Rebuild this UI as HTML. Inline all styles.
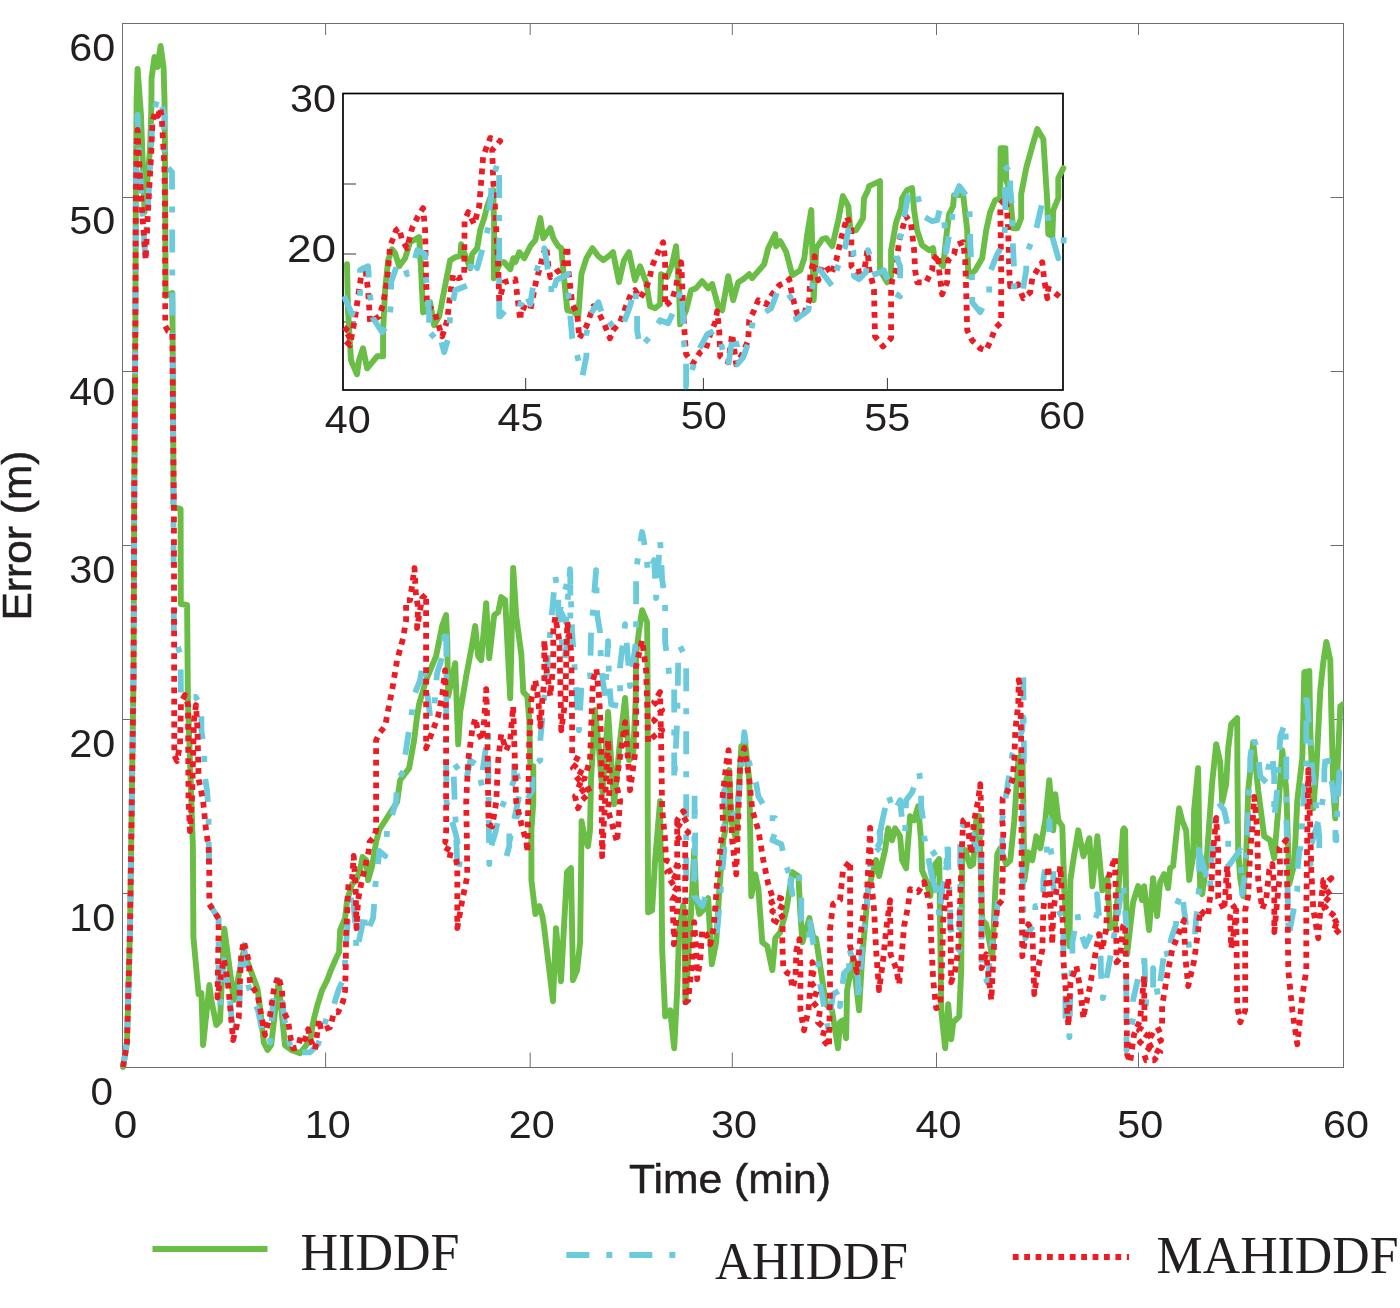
<!DOCTYPE html><html><head><meta charset="utf-8"><title>Error vs Time</title>
<style>html,body{margin:0;padding:0;background:#fff}svg{display:block}text{font-family:"Liberation Sans",sans-serif;fill:#231f20}.ser{font-family:"Liberation Serif",serif}</style></head><body>
<svg width="1400" height="1308" viewBox="0 0 1400 1308">
<rect width="1400" height="1308" fill="#fff"/>
<g stroke="#6d6e71" stroke-width="1" fill="none">
<rect x="122.5" y="23.5" width="1221" height="1044"/>
<path d="M325.6,1067.5 v-15 M325.6,23.5 v11.5"/>
<path d="M530.2,1067.5 v-15 M530.2,23.5 v11.5"/>
<path d="M732.3,1067.5 v-15 M732.3,23.5 v11.5"/>
<path d="M936.5,1067.5 v-15 M936.5,23.5 v11.5"/>
<path d="M1138.5,1067.5 v-15 M1138.5,23.5 v11.5"/>
<path d="M122.5,893.5 h10.5 M1343.5,893.5 h-13"/>
<path d="M122.5,719.5 h10.5 M1343.5,719.5 h-13"/>
<path d="M122.5,545.5 h10.5 M1343.5,545.5 h-13"/>
<path d="M122.5,371.5 h10.5 M1343.5,371.5 h-13"/>
<path d="M122.5,197.5 h10.5 M1343.5,197.5 h-13"/>
</g>
<clipPath id="cp"><rect x="100" y="0" width="1243.6" height="1100"/></clipPath>
<g fill="none" stroke-linejoin="round" stroke-linecap="butt" clip-path="url(#cp)">
<path d="M123.0,1067.0 L125.0,1055.0 L127.0,1042.0 L130.0,930.0 L131.4,830.0 L133.5,677.0 L134.3,490.0 L135.4,320.0 L135.8,200.0 L136.6,100.0 L137.6,69.0 L141.0,115.0 L144.6,212.0 L150.0,150.0 L151.3,110.0 L151.6,78.0 L154.5,57.0 L157.5,67.0 L160.6,46.0 L163.6,68.0 L164.5,100.0 L165.0,150.0 L165.6,296.0 L172.3,293.0 L172.6,330.0 L173.6,507.0 L180.6,509.0 L180.8,604.0 L187.1,605.0 L187.9,700.0 L192.9,847.0 L193.4,937.0 L198.6,994.0 L201.4,993.0 L203.1,1045.0 L209.4,985.0 L211.3,1000.0 L216.3,1025.0 L220.0,1021.0 L224.3,928.6 L233.8,1000.0 L243.6,951.4 L257.5,988.8 L260.0,1007.5 L263.8,1042.5 L267.5,1050.0 L271.2,1045.0 L278.6,981.4 L285.0,1045.3 L292.0,1050.3 L300.0,1053.3 L310.1,1040.3 L313.1,1022.3 L317.1,1006.2 L322.1,990.2 L327.1,980.2 L330.1,972.2 L336.1,958.2 L339.1,952.2 L340.1,930.1 L345.1,918.1 L347.1,900.1 L352.1,884.1 L356.1,880.1 L360.1,870.1 L362.5,857.0 L366.1,860.0 L368.1,880.1 L372.1,866.1 L376.1,842.0 L379.2,830.0 L397.1,802.0 L400.1,780.3 L409.1,768.3 L414.1,740.3 L417.1,716.2 L419.1,704.2 L426.1,680.2 L436.1,656.2 L442.1,626.1 L446.1,615.1 L447.2,640.1 L448.2,696.2 L455.2,663.2 L458.2,744.3 L460.2,712.2 L466.2,676.2 L472.2,644.1 L475.2,626.1 L478.2,656.2 L481.2,660.2 L486.2,603.1 L489.2,658.2 L494.2,615.1 L498.2,612.1 L501.2,597.1 L505.2,600.1 L510.2,698.2 L513.2,568.0 L516.2,616.1 L521.3,654.2 L523.3,692.2 L527.3,696.2 L529.3,720.3 L530.3,766.3 L533.3,766.3 L533.3,802.0 L531.4,830.0 L531.4,880.1 L535.4,914.1 L539.4,906.1 L542.4,916.1 L544.0,926.1 L553.0,1001.2 L556.0,928.1 L561.0,981.2 L567.0,872.1 L571.0,868.1 L573.0,980.2 L577.1,970.2 L580.1,942.2 L581.1,870.1 L581.6,821.2 L584.0,834.2 L588.0,846.2 L590.0,830.2 L591.0,780.1 L595.0,710.0 L599.1,750.1 L602.5,792.2 L605.7,750.1 L608.1,712.0 L611.1,760.1 L614.1,804.2 L620.1,740.1 L625.1,698.0 L629.1,760.1 L633.1,756.1 L635.7,700.0 L636.1,654.2 L639.1,630.2 L642.1,610.1 L647.1,622.2 L647.7,690.3 L647.7,800.2 L648.1,912.3 L652.1,910.3 L655.1,860.3 L660.1,801.2 L660.7,860.3 L661.2,850.0 L662.2,950.2 L665.2,1016.3 L670.2,1010.3 L674.2,1048.3 L677.2,990.2 L679.2,930.1 L683.2,905.1 L684.6,914.1 L685.4,1002.2 L688.2,960.2 L691.2,910.1 L694.2,850.0 L696.2,896.1 L699.2,914.1 L703.2,910.1 L708.2,898.1 L710.2,938.2 L711.8,964.2 L716.2,942.2 L719.3,890.1 L723.3,840.0 L725.3,830.0 L726.2,780.1 L729.2,770.1 L731.2,820.2 L736.2,840.2 L738.2,800.2 L741.3,746.1 L745.3,744.1 L749.3,780.1 L751.3,896.3 L755.3,874.3 L758.3,888.3 L762.3,942.2 L767.3,946.2 L772.3,970.2 L775.3,938.2 L780.3,932.1 L786.3,910.1 L792.4,872.1 L798.4,876.1 L800.4,914.1 L802.4,942.2 L809.4,918.1 L813.4,938.2 L816.0,938.2 L822.0,978.2 L826.0,1004.2 L832.0,1010.3 L838.0,1048.3 L840.0,1022.3 L843.0,1020.3 L846.1,1038.3 L847.1,990.2 L853.1,958.2 L859.1,1010.3 L862.1,958.2 L868.1,890.1 L876.1,860.0 L879.1,876.1 L885.1,850.0 L888.1,828.3 L892.1,840.3 L895.1,828.3 L900.1,836.3 L902.1,860.3 L906.1,868.3 L910.1,816.2 L914.1,820.3 L918.1,806.2 L921.1,840.3 L922.1,870.3 L926.1,880.3 L930.2,896.1 L932.6,880.1 L935.2,864.0 L939.2,859.0 L940.2,930.1 L941.2,1010.3 L945.2,1048.3 L948.2,1004.2 L951.2,1039.3 L953.2,1022.3 L959.2,1016.3 L961.2,970.2 L962.2,860.0 L965.2,850.0 L970.2,866.1 L973.2,864.3 L976.2,820.3 L979.2,816.2 L980.2,850.0 L982.2,920.1 L986.2,924.1 L990.3,946.2 L992.3,958.2 L995.3,890.1 L997.3,854.0 L1000.2,848.3 L1006.2,864.3 L1010.3,860.3 L1014.3,820.3 L1018.3,760.2 L1022.3,752.2 L1023.3,800.2 L1024.3,880.3 L1028.3,852.3 L1032.3,860.3 L1036.3,836.3 L1040.3,848.3 L1045.3,820.3 L1049.3,780.2 L1053.3,830.3 L1055.3,794.2 L1058.3,820.3 L1062.3,826.3 L1064.3,890.4 L1065.4,910.1 L1069.4,946.2 L1070.4,880.1 L1073.3,860.3 L1078.3,830.3 L1083.4,856.3 L1089.4,838.3 L1092.4,886.3 L1097.4,836.3 L1102.4,890.4 L1107.4,878.3 L1110.0,928.1 L1115.0,926.1 L1120.1,870.1 L1123.1,830.0 L1124.0,828.3 L1125.1,830.0 L1127.1,954.2 L1133.1,902.1 L1138.1,886.1 L1142.1,900.1 L1144.1,886.1 L1149.1,930.1 L1153.1,878.1 L1157.1,916.1 L1160.1,882.1 L1164.1,874.1 L1168.1,888.1 L1170.1,868.1 L1173.1,866.1 L1179.1,808.3 L1182.1,820.3 L1186.1,830.3 L1189.2,880.1 L1193.2,856.0 L1194.1,810.3 L1198.1,768.2 L1200.2,890.1 L1202.2,894.1 L1206.2,866.1 L1212.2,782.2 L1216.2,744.2 L1220.2,762.2 L1222.2,802.3 L1226.2,784.2 L1228.2,748.2 L1231.2,724.2 L1237.2,718.2 L1237.4,770.2 L1238.2,850.0 L1240.2,878.1 L1243.2,896.1 L1246.2,856.0 L1248.2,790.3 L1253.2,742.2 L1258.2,790.3 L1264.2,836.3 L1270.2,840.3 L1274.2,858.3 L1278.2,810.3 L1282.3,750.2 L1286.3,790.3 L1289.3,884.1 L1294.3,864.0 L1297.3,800.3 L1302.3,758.2 L1304.3,672.1 L1309.3,671.1 L1310.3,730.2 L1313.3,808.3 L1316.3,770.2 L1320.3,690.1 L1323.3,662.1 L1326.3,642.0 L1330.3,660.1 L1331.3,710.1 L1333.3,790.3 L1335.3,818.3 L1338.3,750.2 L1340.3,706.1 L1343.3,704.1" stroke="#6abd45" stroke-width="5.9" stroke-linecap="round"/>
<path d="M123.0,1067.0 L125.0,1055.0 L127.0,1042.0 L130.0,930.0 L131.4,830.0 L133.5,677.0 L134.3,490.0 L135.4,320.0 L135.8,200.0 L136.8,130.0 L137.6,115.0 L139.0,150.0 L142.0,205.0 L145.0,253.0 L148.0,205.0 L150.0,170.0 L151.4,140.0 L153.0,115.0 L156.0,104.0 L159.0,96.0 L162.0,106.0 L164.6,117.0 L163.6,130.0 L165.0,165.0 L172.0,172.0 L172.4,300.0 L173.9,633.0 L177.0,644.0 L180.5,655.0 L181.0,697.0 L195.7,697.0 L201.4,707.0 L201.4,730.0 L204.3,751.0 L204.3,773.0 L207.0,790.0 L208.6,811.0 L208.6,833.0 L209.3,873.0 L209.3,904.0 L218.6,918.6 L218.6,990.0 L220.0,1005.0 L224.0,960.0 L230.0,1000.0 L233.0,1035.0 L239.0,1015.0 L241.0,955.0 L244.0,945.0 L247.5,982.5 L252.5,1000.0 L258.0,1010.0 L263.8,1040.0 L270.0,1042.5 L274.0,990.0 L278.0,980.0 L282.0,1000.2 L286.0,1030.3 L292.0,1052.3 L310.1,1052.3 L318.1,1044.3 L328.1,1013.3 L334.1,1004.2 L339.1,988.2 L344.1,978.2 L345.7,950.2 L348.1,916.1 L352.5,890.1 L355.7,930.1 L356.5,952.2 L362.1,926.1 L363.7,911.1 L366.1,934.1 L373.1,918.1 L374.1,905.1 L375.5,884.1 L378.2,862.0 L379.2,851.0 L385.2,856.0 L386.2,842.0 L387.2,830.0 L396.1,802.0 L397.1,780.3 L404.1,770.3 L405.1,756.3 L408.1,736.3 L411.1,718.2 L414.1,695.2 L420.1,680.2 L423.1,662.2 L428.1,700.2 L430.1,716.2 L434.1,716.2 L435.1,694.2 L437.1,673.2 L443.1,654.2 L444.1,636.1 L446.1,626.1 L446.5,664.2 L446.1,750.3 L446.5,802.0 L456.3,836.0 L460.3,858.0 L457.7,873.1 L454.2,788.3 L453.2,762.3 L466.2,780.3 L470.2,760.3 L476.2,764.3 L482.2,786.3 L482.6,770.3 L488.2,732.3 L488.6,802.0 L489.3,864.0 L489.3,852.0 L495.3,833.0 L500.2,810.4 L514.2,780.3 L514.2,760.3 L520.3,790.4 L506.3,857.0 L509.3,846.0 L509.3,830.0 L532.3,790.4 L532.3,766.3 L540.3,760.3 L540.3,740.3 L555.3,576.1 L558.3,596.1 L558.3,614.1 L564.3,660.2 L570.3,620.1 L570.3,570.0 L560.0,610.1 L566.0,622.2 L570.0,569.1 L572.0,630.2 L579.0,730.3 L582.0,676.2 L590.0,676.2 L591.0,635.2 L596.1,570.1 L597.1,614.1 L600.1,632.2 L601.1,668.2 L605.1,696.3 L608.1,641.2 L609.1,682.2 L611.1,704.3 L620.1,706.3 L620.1,666.2 L625.1,624.2 L627.1,648.2 L630.1,686.2 L636.1,640.2 L636.1,570.1 L639.1,550.1 L642.1,532.0 L646.1,553.1 L648.1,574.1 L654.1,560.1 L655.1,578.1 L656.1,598.1 L660.1,540.0 L661.1,558.1 L662.1,579.1 L665.1,600.1 L665.1,642.2 L668.2,664.2 L669.2,676.2 L674.2,687.2 L674.2,782.1 L677.2,720.1 L678.2,660.2 L680.2,646.2 L686.2,659.2 L686.2,900.3 L694.2,878.3 L694.6,794.2 L695.2,834.2 L694.2,896.3 L702.2,906.3 L706.2,894.3 L716.2,910.3 L717.2,930.4 L724.2,850.2 L724.2,790.2 L736.2,820.2 L740.3,780.1 L744.3,732.1 L748.3,760.1 L756.3,784.1 L758.3,796.2 L764.3,806.2 L768.3,818.2 L775.3,818.2 L778.3,824.2 L772.3,840.2 L781.3,844.2 L786.3,866.3 L790.3,876.3 L792.3,894.3 L790.3,880.3 L798.3,868.3 L801.3,897.3 L801.3,920.3 L809.3,922.3 L809.3,938.4 L810.0,922.1 L813.0,942.2 L818.0,960.2 L819.0,978.2 L823.0,1000.2 L828.0,1028.3 L833.0,994.2 L840.0,990.2 L840.0,1006.2 L844.0,973.2 L849.1,968.2 L849.1,948.2 L858.1,978.2 L858.1,1002.2 L863.1,934.1 L867.1,910.1 L867.1,900.1 L870.1,870.1 L870.1,854.0 L876.1,850.0 L880.1,842.0 L880.1,830.0 L876.1,851.3 L881.1,846.3 L881.1,826.3 L888.1,794.2 L894.1,812.2 L900.1,800.2 L902.1,820.3 L905.1,832.3 L906.1,800.2 L912.1,792.2 L919.1,772.2 L921.1,786.2 L921.1,806.2 L924.1,826.3 L924.1,836.3 L928.1,856.3 L932.1,878.3 L938.2,894.4 L945.2,872.3 L948.2,858.3 L948.2,844.3 L929.2,856.0 L932.2,878.1 L938.2,896.1 L939.2,918.1 L942.2,890.1 L945.2,872.1 L947.2,856.0 L947.2,844.0 L950.2,906.1 L950.2,926.1 L954.2,944.2 L959.2,950.2 L960.2,896.1 L960.2,830.0 L966.2,820.3 L970.2,822.0 L974.2,842.0 L978.2,850.0 L981.2,830.0 L981.6,968.2 L987.2,982.2 L994.3,926.1 L998.3,900.1 L1002.3,880.1 L1002.3,842.0 L1002.2,820.3 L1006.2,794.2 L1012.3,754.2 L1022.3,730.1 L1023.3,708.1 L1023.3,676.1 L1023.9,752.2 L1022.7,820.3 L1022.3,830.0 L1022.3,850.0 L1023.3,910.1 L1025.3,938.2 L1030.3,930.1 L1035.3,922.1 L1035.3,906.1 L1040.3,906.1 L1043.3,896.1 L1043.3,880.1 L1046.3,860.0 L1047.3,838.0 L1049.3,838.3 L1049.3,820.3 L1050.3,847.0 L1053.3,866.1 L1053.3,886.1 L1058.3,910.1 L1063.4,920.1 L1063.4,954.2 L1065.4,996.2 L1065.4,1016.3 L1069.4,1037.3 L1070.4,990.2 L1072.4,960.2 L1072.4,942.2 L1077.4,914.1 L1079.4,928.1 L1085.4,946.2 L1090.0,936.1 L1091.0,934.1 L1097.0,914.1 L1097.0,894.1 L1100.0,928.1 L1101.0,973.2 L1103.0,998.2 L1109.0,964.2 L1113.0,942.2 L1123.1,882.1 L1126.1,924.1 L1126.5,1050.3 L1133.1,1018.3 L1133.1,1000.2 L1138.1,978.2 L1144.1,968.2 L1144.1,950.2 L1146.1,1004.2 L1153.1,990.2 L1153.1,968.2 L1158.1,996.2 L1162.1,968.2 L1165.1,946.2 L1168.1,958.2 L1171.1,939.2 L1176.1,924.1 L1176.1,906.1 L1182.1,892.1 L1184.1,910.1 L1189.2,948.2 L1195.2,942.2 L1195.2,930.1 L1199.2,886.1 L1199.2,850.0 L1199.1,868.4 L1199.1,850.3 L1210.2,890.1 L1210.2,874.1 L1214.2,828.3 L1214.2,812.3 L1218.2,802.3 L1224.2,810.3 L1228.2,828.3 L1228.2,866.4 L1240.2,850.0 L1242.2,894.1 L1245.2,870.1 L1246.2,848.0 L1248.2,824.3 L1248.2,798.3 L1250.2,778.2 L1250.2,758.2 L1253.2,736.2 L1258.2,754.2 L1260.2,776.2 L1268.2,784.2 L1268.2,768.2 L1272.2,754.2 L1274.2,776.2 L1274.2,818.3 L1277.2,790.3 L1280.3,736.2 L1285.3,722.2 L1286.3,754.2 L1286.3,776.2 L1286.3,818.3 L1287.3,850.0 L1287.3,874.1 L1288.3,918.1 L1288.3,938.2 L1297.3,890.1 L1297.3,872.1 L1299.3,850.0 L1300.3,849.3 L1306.3,762.2 L1306.3,690.1 L1312.3,770.2 L1319.3,836.3 L1319.3,854.3 L1310.3,864.0 L1310.3,848.0 L1320.3,814.3 L1324.3,790.3 L1324.3,770.2 L1326.3,750.2 L1336.3,808.3 L1339.3,786.2 L1339.3,772.2 L1336.3,830.3 L1336.3,840.3 L1335.4,840.0 L1335.4,830.0" stroke="#6ccadd" stroke-width="5.8" stroke-dasharray="23 17 6 17"/>
<path d="M123.0,1067.0 L125.0,1055.0 L127.0,1042.0 L130.0,930.0 L131.4,830.0 L133.5,677.0 L134.3,490.0 L135.4,320.0 L135.8,200.0 L136.8,140.0 L137.6,130.0 L139.0,160.0 L142.0,210.0 L145.7,260.0 L148.0,210.0 L150.0,175.0 L151.4,150.0 L151.6,140.0 L152.5,122.0 L155.0,112.0 L158.0,116.0 L160.4,108.0 L162.0,122.0 L163.0,140.0 L164.3,165.0 L165.0,200.0 L165.3,326.0 L168.0,331.0 L172.4,333.0 L173.0,420.0 L173.9,508.0 L174.3,755.0 L177.0,761.0 L180.0,745.0 L181.0,702.0 L185.0,695.0 L188.0,705.0 L188.5,800.0 L190.0,831.0 L192.0,800.0 L194.0,720.0 L196.0,705.0 L197.5,730.0 L198.6,779.0 L203.0,800.0 L206.0,830.0 L208.6,847.0 L209.3,873.0 L209.3,904.0 L218.6,918.6 L218.6,930.0 L217.5,997.5 L223.8,958.8 L227.5,978.8 L230.0,1005.0 L233.1,1040.0 L238.8,1017.5 L240.0,980.0 L241.2,955.0 L243.8,941.2 L248.8,961.2 L250.0,983.8 L257.5,993.8 L261.2,1015.0 L265.0,1035.0 L270.0,1016.0 L273.8,990.0 L278.1,976.2 L278.6,977.2 L282.0,990.2 L283.0,1010.3 L288.0,1020.3 L291.0,1040.3 L293.0,1048.3 L298.0,1047.3 L301.0,1035.3 L305.0,1039.3 L308.1,1029.3 L311.1,1041.3 L315.1,1049.3 L319.1,1019.3 L321.1,1030.3 L330.1,1027.3 L334.1,1012.3 L338.1,1012.3 L343.1,1001.2 L345.1,990.2 L345.7,968.2 L346.1,934.1 L347.1,914.1 L347.7,898.1 L348.5,884.1 L352.1,879.1 L353.7,856.0 L355.1,880.1 L355.7,890.1 L356.1,910.1 L356.5,928.1 L358.1,900.1 L361.1,884.1 L365.7,865.0 L368.5,852.0 L369.5,842.0 L374.1,837.0 L376.1,830.0 L376.1,802.0 L376.1,740.3 L380.1,732.3 L385.1,726.3 L388.1,710.2 L392.1,690.2 L397.1,660.2 L403.1,638.1 L406.1,620.1 L406.1,600.1 L410.1,600.1 L414.5,568.0 L415.7,592.1 L418.1,608.1 L417.1,628.1 L419.1,616.1 L422.1,598.1 L426.1,594.1 L426.1,748.3 L432.1,732.3 L438.1,716.2 L442.1,696.2 L445.1,670.2 L446.1,720.3 L446.1,802.0 L446.2,830.0 L445.2,842.0 L450.3,844.0 L444.6,854.0 L455.3,856.0 L457.3,866.1 L457.3,928.1 L462.3,900.1 L467.3,876.1 L466.7,830.0 L466.2,802.0 L468.2,760.3 L472.2,730.3 L475.2,718.2 L478.2,732.3 L482.2,740.3 L484.2,720.3 L486.2,689.2 L487.2,720.3 L488.2,802.0 L488.6,824.4 L492.2,826.4 L496.2,802.0 L498.2,760.3 L501.2,734.3 L506.2,750.3 L510.2,740.3 L513.2,706.2 L514.2,740.3 L516.2,802.0 L521.4,824.0 L526.4,842.0 L527.4,852.0 L529.3,740.3 L531.3,700.2 L535.3,680.2 L538.3,700.2 L540.3,726.3 L542.3,700.2 L544.3,680.2 L544.3,640.1 L546.3,668.2 L550.3,696.2 L553.3,664.2 L553.3,630.1 L555.3,617.1 L559.3,640.1 L560.3,680.2 L561.3,730.3 L565.3,700.2 L566.3,660.2 L567.3,622.1 L571.3,652.2 L572.3,740.3 L572.0,756.1 L580.0,760.1 L573.0,768.1 L584.0,774.1 L574.0,782.1 L586.0,788.2 L575.0,796.2 L578.0,808.2 L582.0,800.2 L590.0,792.2 L584.0,780.1 L590.0,760.1 L593.0,680.0 L596.4,669.2 L599.4,700.2 L601.1,740.1 L602.1,856.2 L605.1,800.2 L608.1,740.1 L610.1,780.1 L608.1,810.2 L617.1,842.2 L620.1,800.2 L616.1,784.1 L625.1,722.1 L628.1,760.1 L630.1,790.2 L636.1,746.1 L636.1,666.2 L642.1,640.2 L646.1,670.2 L647.1,700.0 L648.1,742.1 L654.1,736.1 L662.1,730.1 L654.1,720.1 L662.1,710.0 L654.1,702.0 L660.1,692.0 L661.1,740.1 L662.1,808.2 L665.1,840.2 L666.1,860.3 L678.2,866.3 L667.2,872.3 L678.2,878.3 L669.2,884.3 L678.2,890.3 L672.2,900.3 L674.2,942.0 L673.8,944.2 L678.2,900.1 L677.2,860.0 L677.2,830.0 L677.2,820.2 L683.2,811.2 L688.2,818.2 L677.2,824.2 L688.2,832.2 L678.2,838.2 L685.2,840.2 L685.2,942.0 L685.6,1002.2 L688.2,1000.2 L691.2,970.2 L694.2,922.1 L696.2,950.2 L697.2,979.2 L700.2,960.2 L702.2,930.1 L706.2,934.1 L710.2,944.2 L713.2,930.1 L715.2,910.1 L717.2,880.1 L721.3,840.0 L723.3,830.0 L722.2,800.2 L726.2,764.1 L728.6,750.1 L730.2,800.2 L732.2,840.2 L736.2,874.3 L738.2,820.2 L740.3,760.1 L744.3,748.1 L749.3,780.1 L752.3,810.2 L758.3,830.2 L760.3,842.2 L763.3,860.3 L768.3,884.3 L772.3,896.3 L781.3,898.3 L771.3,902.3 L781.9,907.3 L772.3,911.3 L782.3,916.3 L773.9,920.3 L782.7,925.3 L782.3,942.0 L782.3,942.2 L783.3,968.2 L787.3,973.2 L790.4,974.2 L792.4,988.2 L795.4,978.2 L796.4,950.2 L799.4,939.2 L800.4,970.2 L800.4,1010.3 L804.0,1030.3 L808.4,1010.3 L812.4,962.2 L814.0,970.2 L811.0,982.2 L817.0,990.2 L813.0,1002.2 L820.0,1010.3 L818.0,1022.3 L825.0,1028.3 L822.0,1038.3 L829.0,1047.3 L830.0,990.2 L830.0,930.1 L833.0,904.1 L840.0,900.1 L843.0,870.1 L850.1,861.0 L850.1,946.2 L857.1,972.2 L861.1,930.1 L867.1,890.1 L869.1,850.0 L870.1,828.0 L871.1,880.1 L874.1,910.1 L876.1,950.2 L879.1,990.2 L883.1,960.2 L886.1,930.1 L890.1,900.1 L890.5,954.2 L896.1,968.2 L899.1,984.2 L902.1,950.2 L904.1,926.1 L908.1,906.1 L910.1,889.1 L918.2,892.1 L924.2,882.1 L930.2,906.1 L931.2,940.2 L933.2,980.2 L936.2,1008.2 L940.2,1006.2 L942.2,960.2 L943.2,920.1 L948.2,878.1 L950.2,910.1 L951.2,982.2 L955.2,970.2 L958.2,950.2 L960.2,900.1 L962.2,840.0 L963.2,820.3 L966.2,818.2 L968.2,830.3 L971.2,854.3 L974.2,820.3 L978.2,800.2 L980.2,784.2 L981.6,820.3 L981.2,890.1 L981.6,968.2 L986.2,954.2 L991.3,1000.2 L994.3,940.2 L997.3,906.1 L1002.3,900.1 L1003.3,830.0 L1002.2,820.3 L1002.6,798.2 L1006.2,794.2 L1012.3,780.2 L1014.3,760.2 L1015.3,730.1 L1018.3,704.1 L1018.7,680.1 L1020.3,686.1 L1021.3,752.2 L1021.7,896.4 L1022.3,956.2 L1025.3,938.2 L1028.3,924.1 L1032.3,930.1 L1034.3,994.2 L1038.3,966.2 L1042.3,950.2 L1043.3,910.1 L1048.3,866.1 L1050.3,898.1 L1052.3,944.2 L1053.3,910.1 L1060.4,866.1 L1062.4,910.1 L1063.4,960.2 L1068.4,1026.3 L1070.4,982.2 L1076.4,966.2 L1080.4,990.2 L1083.4,1018.3 L1083.0,1018.3 L1090.0,986.2 L1096.0,950.2 L1099.0,934.1 L1102.0,950.2 L1106.0,930.1 L1109.0,876.1 L1115.0,857.0 L1116.1,910.1 L1116.5,962.2 L1120.1,958.2 L1123.1,926.1 L1125.1,924.1 L1126.1,970.2 L1127.1,1054.3 L1130.1,1062.3 L1134.1,1034.3 L1140.1,1020.3 L1144.1,976.2 L1144.5,1022.3 L1139.1,1030.3 L1148.1,1036.3 L1140.1,1042.3 L1149.1,1048.3 L1144.1,1054.3 L1146.1,1060.3 L1154.1,1060.3 L1160.1,1052.3 L1149.1,1046.3 L1161.1,1040.3 L1150.1,1034.3 L1162.1,1028.3 L1162.1,1006.2 L1168.1,970.2 L1172.1,950.2 L1180.1,930.1 L1184.1,920.1 L1185.1,954.2 L1188.2,986.2 L1194.2,960.2 L1198.2,930.1 L1200.2,910.1 L1204.2,914.1 L1208.2,916.1 L1209.2,904.1 L1211.2,890.1 L1213.2,850.0 L1216.2,818.0 L1218.2,850.0 L1218.2,898.1 L1224.2,910.1 L1227.2,866.1 L1229.2,900.1 L1234.2,907.1 L1230.2,916.1 L1231.2,948.2 L1234.2,930.1 L1236.2,910.1 L1237.2,1006.2 L1240.2,1022.3 L1245.2,1010.3 L1245.2,910.1 L1248.2,896.1 L1250.2,850.0 L1252.2,830.0 L1254.2,797.0 L1257.2,830.0 L1258.2,880.1 L1262.3,909.1 L1266.3,898.1 L1269.3,870.1 L1272.3,864.0 L1274.3,890.1 L1274.3,932.1 L1277.3,900.1 L1280.3,870.1 L1279.3,848.0 L1286.3,840.0 L1287.3,890.1 L1288.3,970.2 L1292.3,1010.3 L1297.3,1044.3 L1302.3,996.2 L1306.3,970.2 L1306.3,910.1 L1307.3,830.0 L1308.3,769.9 L1310.3,830.0 L1311.3,870.1 L1313.3,910.1 L1318.3,938.2 L1320.3,910.1 L1323.3,880.1 L1331.4,878.1 L1323.3,886.1 L1331.4,890.1 L1323.3,896.1 L1330.4,902.1 L1324.3,908.1 L1332.4,914.1 L1338.4,920.1 L1330.4,924.1 L1341.4,928.1 L1333.4,935.1" stroke="#ed1c24" stroke-width="5.8" stroke-dasharray="5.8 5.6"/>
</g>
<rect x="343" y="93.5" width="720" height="296.5" fill="#fff" stroke="#000" stroke-width="1.7"/>
<g stroke="#231f20" stroke-width="0.9" fill="none"><path d="M525.7,390 v-12 M703.4,390 v-12 M887.4,390 v-12 M343,184 h13 M343,254 h13 M343,322 h13"/></g>
<g fill="none" stroke-linejoin="round" stroke-linecap="butt">
<path d="M347.0,264.2 L348.0,310.3 L351.0,360.3 L357.0,374.3 L359.0,360.3 L363.0,348.3 L367.1,368.3 L377.1,356.3 L383.1,356.3 L383.1,330.3 L385.1,290.2 L388.1,260.2 L392.1,249.2 L395.1,253.2 L399.1,266.2 L405.1,258.2 L410.1,242.2 L419.1,237.2 L421.1,270.2 L423.1,312.3 L428.1,310.3 L430.1,302.2 L434.1,325.3 L439.2,316.3 L444.2,290.2 L450.2,260.2 L455.2,257.2 L460.2,256.2 L461.2,244.2 L466.2,258.2 L470.2,268.2 L472.2,254.2 L477.2,248.2 L480.2,230.1 L484.2,218.1 L487.2,206.1 L493.2,190.1 L494.2,230.1 L493.8,278.2 L500.2,262.2 L504.2,262.2 L510.3,269.2 L513.3,258.2 L515.3,262.2 L519.3,252.2 L524.3,258.2 L530.3,246.2 L535.3,240.2 L540.3,218.1 L543.3,238.2 L550.3,228.1 L553.3,238.2 L558.3,246.2 L561.3,248.2 L563.3,270.2 L567.3,310.3 L573.3,311.3 L578.3,316.3 L581.4,274.2 L586.4,258.2 L592.4,248.2 L598.4,256.2 L603.4,260.2 L610.0,255.2 L613.0,252.2 L619.0,282.2 L624.0,260.2 L629.0,252.2 L635.0,280.2 L640.1,266.2 L646.1,282.2 L650.1,306.2 L655.1,308.2 L660.1,304.2 L661.1,274.2 L667.1,277.2 L672.1,264.2 L676.1,246.2 L679.1,290.2 L680.1,324.3 L686.1,310.3 L691.1,290.2 L696.1,288.2 L702.1,281.2 L708.2,288.2 L712.2,284.2 L718.2,306.2 L722.2,310.3 L728.2,276.2 L733.2,300.2 L738.2,282.2 L743.2,279.2 L749.2,274.2 L752.2,278.2 L758.2,271.2 L764.2,264.2 L768.2,248.2 L775.2,234.1 L776.2,246.2 L780.3,241.2 L786.3,252.2 L792.3,275.2 L800.3,270.2 L804.3,258.2 L807.3,234.1 L811.3,210.1 L812.3,250.2 L813.7,300.2 L816.3,248.2 L822.3,239.2 L826.3,238.2 L832.3,246.2 L838.3,220.1 L842.9,196.1 L848.3,206.1 L850.4,230.1 L856.0,230.2 L863.0,218.2 L864.0,198.2 L868.0,190.1 L869.0,186.1 L880.0,181.1 L880.0,270.3 L887.1,282.3 L891.1,276.3 L891.1,250.2 L896.1,222.2 L901.1,208.2 L902.1,198.2 L907.1,190.1 L912.1,188.1 L914.1,210.2 L917.1,230.2 L922.1,245.2 L929.1,250.2 L933.1,248.2 L934.1,256.2 L943.1,266.2 L946.1,238.2 L949.1,214.2 L953.1,206.2 L954.1,195.1 L963.2,195.1 L967.2,230.2 L968.2,276.3 L975.2,270.3 L982.2,258.2 L986.2,230.2 L990.2,212.2 L995.2,200.2 L1000.2,198.2 L1000.6,148.1 L1005.4,148.1 L1006.2,180.1 L1009.6,190.1 L1013.2,228.2 L1017.2,228.2 L1021.2,218.2 L1021.2,194.1 L1026.2,168.1 L1032.3,146.1 L1037.3,129.1 L1043.3,139.1 L1047.3,202.2 L1048.3,234.2 L1052.3,236.2 L1053.3,210.2 L1058.3,198.2 L1058.3,178.1 L1063.3,168.1" stroke="#6abd45" stroke-width="5.9" stroke-linecap="round"/>
<path d="M344.0,327.3 L352.0,334.3 L344.0,339.3 L350.0,345.3 L355.0,318.3 L359.0,290.2 L362.0,270.2 L365.0,266.2 L368.1,290.2 L370.1,322.3 L379.1,316.3 L383.1,304.2 L387.1,280.2 L390.1,246.2 L396.1,230.1 L399.1,228.1 L402.1,240.2 L407.1,248.2 L412.1,228.1 L418.1,216.1 L423.1,208.1 L425.1,230.1 L426.1,280.2 L427.1,306.2 L434.1,310.3 L438.2,324.3 L442.2,336.3 L447.2,320.3 L450.2,294.2 L453.2,274.2 L458.2,278.2 L464.2,276.2 L464.6,220.1 L468.2,212.1 L474.2,224.1 L479.2,206.1 L483.2,156.0 L490.2,138.0 L500.2,141.0 L492.2,150.0 L493.2,180.1 L495.2,210.1 L498.2,266.2 L499.2,300.2 L504.2,282.2 L515.3,279.2 L517.3,296.2 L520.3,320.3 L521.3,306.2 L530.3,310.3 L532.3,300.2 L536.3,280.2 L540.3,266.2 L543.3,254.2 L546.3,246.2 L548.3,266.2 L550.3,277.2 L556.3,272.2 L563.3,268.2 L567.3,246.2 L568.3,270.2 L572.3,304.2 L577.3,314.3 L579.3,338.3 L586.4,326.3 L593.4,306.2 L599.4,314.3 L604.4,324.3 L610.0,338.3 L613.0,330.3 L620.0,322.3 L626.0,306.2 L631.0,294.2 L635.0,290.2 L640.1,298.2 L645.1,290.2 L649.1,280.2 L652.1,266.2 L658.1,252.2 L663.1,242.2 L665.1,260.2 L665.1,306.2 L672.1,300.2 L676.1,286.2 L679.1,270.2 L681.1,262.2 L682.1,282.2 L683.1,310.3 L685.1,340.3 L686.1,354.3 L693.1,363.3 L700.1,352.3 L706.1,348.3 L710.2,334.3 L715.2,322.3 L717.2,311.3 L719.2,330.3 L720.2,356.3 L728.2,362.3 L732.2,334.3 L736.2,364.3 L742.2,354.3 L748.2,340.3 L749.2,320.3 L754.2,310.3 L758.2,300.2 L766.2,304.2 L772.2,294.2 L779.3,285.2 L786.3,282.2 L789.3,279.2 L792.3,296.2 L797.3,314.3 L804.3,313.3 L809.3,300.2 L810.3,274.2 L814.7,256.2 L815.3,268.2 L818.3,280.2 L822.3,266.2 L826.3,266.2 L831.3,274.2 L836.3,260.2 L840.3,242.2 L843.3,230.1 L847.3,217.1 L851.4,230.1 L851.4,266.2 L856.4,272.2 L864.4,270.2 L867.4,250.2 L869.4,270.2 L873.4,286.2 L874.0,290.3 L875.0,336.3 L883.0,346.4 L891.1,338.3 L891.1,290.3 L892.1,280.3 L896.1,270.3 L899.1,240.2 L903.1,226.2 L906.1,216.2 L911.1,224.2 L914.1,250.2 L915.1,270.3 L917.1,282.3 L926.1,282.3 L932.1,270.3 L933.1,260.2 L938.1,254.2 L939.1,270.3 L942.1,294.3 L947.1,282.3 L948.1,260.2 L954.1,254.2 L956.1,245.2 L963.2,242.2 L965.2,260.2 L966.2,290.3 L967.2,330.3 L972.2,340.4 L980.2,348.4 L986.2,350.4 L991.2,339.3 L995.2,328.3 L1001.2,322.3 L1001.2,270.3 L1000.2,204.2 L1006.2,198.2 L1008.2,230.2 L1009.2,270.3 L1010.2,286.3 L1018.2,284.3 L1023.2,298.3 L1030.3,292.3 L1032.3,278.3 L1038.3,268.2 L1042.3,262.2 L1044.3,280.3 L1047.3,298.3 L1048.3,288.3 L1054.3,292.3 L1060.3,297.3" stroke="#ed1c24" stroke-width="5.8" stroke-dasharray="5.8 5.6"/>
<path d="M344.0,296.2 L352.0,314.3 L360.0,296.2 L360.0,270.2 L368.1,266.2 L370.1,296.2 L373.1,318.3 L382.1,332.3 L389.1,323.3 L391.1,302.2 L391.1,282.2 L398.1,262.2 L404.1,266.2 L407.1,274.2 L412.1,270.2 L417.1,250.2 L425.1,254.2 L425.1,272.2 L428.1,295.2 L429.1,316.3 L429.1,338.3 L438.2,330.3 L444.2,352.3 L448.2,338.3 L450.2,316.3 L455.2,290.2 L468.2,285.2 L472.2,256.2 L477.2,268.2 L483.2,246.2 L489.2,224.1 L489.2,210.1 L491.2,196.1 L491.2,182.1 L498.2,162.0 L499.2,178.1 L499.2,316.3 L500.2,316.3 L513.3,302.2 L521.3,304.2 L525.3,292.2 L530.3,304.2 L534.3,278.2 L540.3,258.2 L544.3,248.2 L548.3,272.2 L551.3,280.2 L551.3,298.2 L556.3,280.2 L568.3,274.2 L568.3,294.2 L570.3,316.3 L572.3,338.3 L577.3,356.3 L582.4,376.3 L586.4,356.3 L586.4,334.3 L590.4,314.3 L598.4,302.2 L602.4,314.3 L608.4,322.3 L608.0,320.3 L616.0,330.3 L624.0,322.3 L630.0,306.2 L635.0,288.2 L637.1,310.3 L637.1,330.3 L640.1,348.3 L650.1,336.3 L660.1,320.3 L668.1,323.3 L676.1,306.2 L681.1,288.2 L683.1,316.3 L683.1,338.3 L686.1,357.3 L686.1,386.4 L691.1,373.3 L697.1,353.3 L707.2,334.3 L715.2,330.3 L720.2,340.3 L724.2,356.3 L728.2,365.3 L733.2,333.3 L737.2,346.3 L737.2,364.3 L743.2,357.3 L749.2,340.3 L753.2,320.3 L760.2,315.3 L771.2,308.2 L777.2,292.2 L785.3,288.2 L793.3,302.2 L796.3,319.3 L808.3,310.3 L812.3,288.2 L812.3,270.2 L820.3,270.2 L832.3,286.2 L837.3,268.2 L845.3,246.2 L848.3,230.1 L853.4,251.2 L854.0,276.3 L859.0,279.3 L866.0,272.3 L868.0,250.2 L872.0,262.2 L875.0,274.3 L884.0,270.3 L893.1,292.3 L900.1,296.3 L900.1,288.3 L900.1,266.2 L896.1,256.2 L900.1,238.2 L908.1,196.1 L912.1,188.1 L917.1,194.1 L923.1,216.2 L932.1,221.2 L937.1,220.2 L940.1,208.2 L944.1,221.2 L946.1,238.2 L946.1,252.2 L952.1,218.2 L954.1,198.2 L959.2,186.1 L962.2,190.1 L968.2,198.2 L970.2,220.2 L970.2,240.2 L971.2,261.2 L972.2,282.3 L972.2,302.3 L980.2,312.3 L989.2,294.3 L989.2,274.3 L997.2,254.2 L1004.2,242.2 L1005.2,220.2 L1005.2,199.2 L1004.2,170.1 L1010.2,165.1 L1010.2,188.1 L1012.2,208.2 L1012.2,228.2 L1013.2,250.2 L1014.2,272.3 L1014.2,292.3 L1022.2,294.3 L1026.2,270.3 L1026.2,254.2 L1035.3,233.2 L1042.3,202.2 L1047.3,214.2 L1051.3,233.2 L1058.3,258.2 L1058.3,250.2 L1063.3,248.2 L1064.3,226.2" stroke="#6ccadd" stroke-width="5.8" stroke-dasharray="23 17 6 17"/>
</g>
<text x="115.2" y="61.0" font-size="38" text-anchor="end" textLength="46" lengthAdjust="spacingAndGlyphs">60</text>
<text x="115.2" y="233.5" font-size="38" text-anchor="end" textLength="46" lengthAdjust="spacingAndGlyphs">50</text>
<text x="115.2" y="405.3" font-size="38" text-anchor="end" textLength="46" lengthAdjust="spacingAndGlyphs">40</text>
<text x="115.2" y="583.0" font-size="38" text-anchor="end" textLength="46" lengthAdjust="spacingAndGlyphs">30</text>
<text x="115.2" y="757.0" font-size="38" text-anchor="end" textLength="46" lengthAdjust="spacingAndGlyphs">20</text>
<text x="115.2" y="931.0" font-size="38" text-anchor="end" textLength="46" lengthAdjust="spacingAndGlyphs">10</text>
<text x="113.0" y="1105.4" font-size="38" text-anchor="end" textLength="22.5" lengthAdjust="spacingAndGlyphs">0</text>
<text x="125.6" y="1137.5" font-size="38" text-anchor="middle" textLength="23.5" lengthAdjust="spacingAndGlyphs">0</text>
<text x="327.7" y="1137.5" font-size="38" text-anchor="middle" textLength="46" lengthAdjust="spacingAndGlyphs">10</text>
<text x="531.8" y="1137.5" font-size="38" text-anchor="middle" textLength="46" lengthAdjust="spacingAndGlyphs">20</text>
<text x="734.0" y="1137.5" font-size="38" text-anchor="middle" textLength="46" lengthAdjust="spacingAndGlyphs">30</text>
<text x="938.6" y="1137.5" font-size="38" text-anchor="middle" textLength="46" lengthAdjust="spacingAndGlyphs">40</text>
<text x="1140.3" y="1137.5" font-size="38" text-anchor="middle" textLength="46" lengthAdjust="spacingAndGlyphs">50</text>
<text x="1345.9" y="1137.5" font-size="38" text-anchor="middle" textLength="46" lengthAdjust="spacingAndGlyphs">60</text>
<text x="336.0" y="112.3" font-size="38" text-anchor="end" textLength="46" lengthAdjust="spacingAndGlyphs">30</text>
<text x="336.0" y="262.4" font-size="38" text-anchor="end" textLength="49" lengthAdjust="spacingAndGlyphs">20</text>
<text x="347.7" y="433.0" font-size="38" text-anchor="middle" textLength="46" lengthAdjust="spacingAndGlyphs">40</text>
<text x="520.6" y="431.4" font-size="38" text-anchor="middle" textLength="46" lengthAdjust="spacingAndGlyphs">45</text>
<text x="703.7" y="428.6" font-size="38" text-anchor="middle" textLength="46" lengthAdjust="spacingAndGlyphs">50</text>
<text x="887.2" y="431.4" font-size="38" text-anchor="middle" textLength="46" lengthAdjust="spacingAndGlyphs">55</text>
<text x="1062.0" y="428.6" font-size="38" text-anchor="middle" textLength="46" lengthAdjust="spacingAndGlyphs">60</text>
<text x="730" y="1193" font-size="40" stroke="#231f20" stroke-width="0.5" text-anchor="middle" textLength="202" lengthAdjust="spacingAndGlyphs">Time (min)</text>
<text transform="translate(31.4,535.5) rotate(-90)" font-size="40" stroke="#231f20" stroke-width="0.5" text-anchor="middle" textLength="170" lengthAdjust="spacingAndGlyphs">Error (m)</text>
<path d="M152.5,1249 H267.5" stroke="#6abd45" stroke-width="5.9" fill="none"/>
<path d="M566.3,1255 H676" stroke="#6ccadd" stroke-width="5.8" stroke-dasharray="23 17 6 17" fill="none"/>
<path d="M1012.8,1257 H1129" stroke="#ed1c24" stroke-width="5.8" stroke-dasharray="5.8 5.6" fill="none"/>
<text class="ser" x="300.5" y="1270" font-size="52" textLength="159" lengthAdjust="spacingAndGlyphs">HIDDF</text>
<text class="ser" x="715" y="1278.6" font-size="52" textLength="193" lengthAdjust="spacingAndGlyphs">AHIDDF</text>
<text class="ser" x="1156.6" y="1273.3" font-size="52" textLength="242" lengthAdjust="spacingAndGlyphs">MAHIDDF</text>
</svg></body></html>
